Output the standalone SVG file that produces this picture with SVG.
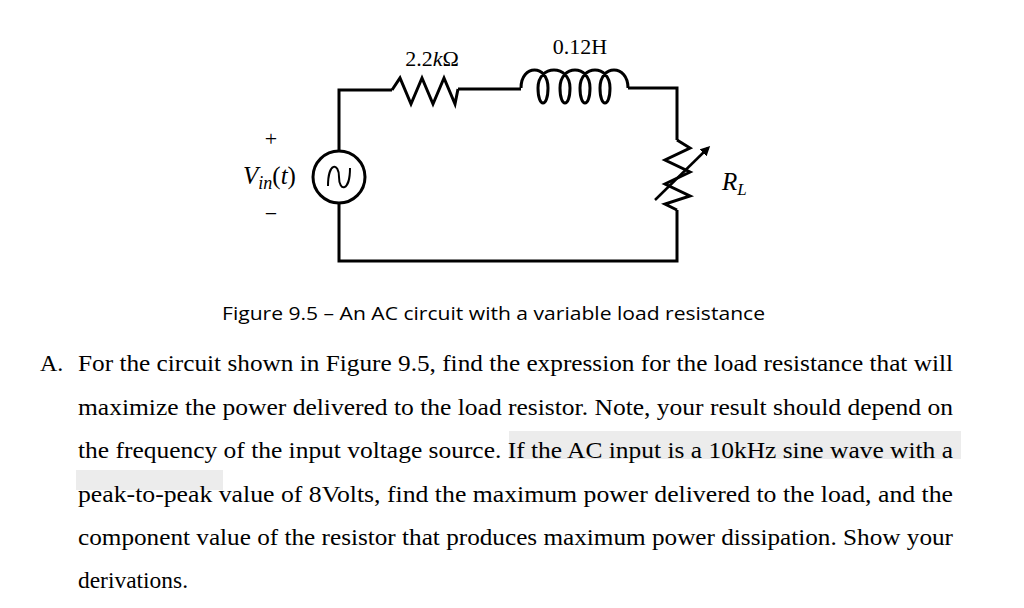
<svg xmlns="http://www.w3.org/2000/svg" width="1024" height="608" viewBox="0 0 1024 608">
<style>
.w{fill:none;stroke:#000;stroke-width:3;stroke-linejoin:miter}
.m{font-family:"Liberation Serif",serif;font-size:22px}
.mi{font-family:"Liberation Serif",serif;font-size:25px;font-style:italic}
.cap{font-family:"Open Sans","Liberation Sans",sans-serif;font-size:18px}
.b{font-family:"Liberation Serif",serif;font-size:24px}
</style>
<defs><marker id="ah" markerWidth="10" markerHeight="10" refX="7" refY="5" orient="auto" markerUnits="userSpaceOnUse"><path d="M0,0 L10,5 L0,10 z" fill="#000"/></marker></defs>
<rect width="1024" height="608" fill="#fff"/>
<rect x="509" y="431" width="452" height="28" fill="#ececec"/>
<rect x="76" y="470" width="147" height="20" fill="#ececec"/>
<g id="connectors">
<path class="w" d="M339,150 V90 H392"/>
<path class="w" d="M458,89 H521"/>
<path class="w" d="M628,88 H677 V140"/>
<path class="w" d="M677,210 V261 H339 V204"/>
</g>
<g id="source"><circle class="w" cx="339" cy="177" r="26"/><path d="M328,186 C328,162 339,162 339,177 C339,192 350,192 350,168" fill="none" stroke="#000" stroke-width="2"/>
<text class="m" x="271" y="146" text-anchor="middle">+</text>
<text class="mi" x="243" y="184">V<tspan font-size="18" dy="5">in</tspan><tspan dy="-5" font-style="normal">(</tspan>t<tspan font-style="normal">)</tspan></text>
<text class="m" x="271" y="221" text-anchor="middle">−</text></g>
<g id="resistor"><path class="w" d="M392,90 L400,78 L411,104 L422,78 L433,104 L444,78 L455,104 L458,89"/>
<text class="m" x="432" y="66" text-anchor="middle">2.2<tspan font-style="italic">k</tspan>Ω</text></g>
<g id="inductor"><path class="w" stroke-width="2.5" d="M521,88 C521,64 548,64 548,88 C548,108 538,108 538,88 C538,64 570,64 570,88 C570,108 560,108 560,88 C560,64 590,64 590,88 C590,108 580,108 580,88 C580,64 610,64 610,88 C610,108 600,108 600,88 C600,64 628,64 628,88"/>
<text class="m" x="580" y="54" text-anchor="middle">0.12H</text></g>
<g id="load"><path class="w" d="M677,140 L690,148 L665,160 L690,172 L665,184 L690,196 L665,204 L677,210"/>
<line x1="655" y1="200" x2="708" y2="148" stroke="#000" stroke-width="2.5" marker-end="url(#ah)"/>
<text class="mi" x="722" y="190">R<tspan font-size="17" dy="5">L</tspan></text></g>
<text class="cap" x="222" y="320" textLength="543" lengthAdjust="spacingAndGlyphs">Figure 9.5 –  An AC circuit with a variable load resistance</text>
<g class="b">
<text x="40" y="371">A.</text>
<text x="78" y="371" textLength="875" lengthAdjust="spacingAndGlyphs">For the circuit shown in Figure 9.5, find the expression for the load resistance that will</text>
<text x="78" y="415" textLength="875" lengthAdjust="spacingAndGlyphs">maximize the power delivered to the load resistor. Note, your result should depend on</text>
<text x="78" y="458" textLength="875" lengthAdjust="spacingAndGlyphs">the frequency of the input voltage source. If the AC input is a 10kHz sine wave with a</text>
<text x="78" y="502" textLength="875" lengthAdjust="spacingAndGlyphs">peak-to-peak value of 8Volts, find the maximum power delivered to the load, and the</text>
<text x="78" y="545" textLength="875" lengthAdjust="spacingAndGlyphs">component value of the resistor that produces maximum power dissipation. Show your</text>
<text x="78" y="588" textLength="110" lengthAdjust="spacingAndGlyphs">derivations.</text>
</g>
</svg>
